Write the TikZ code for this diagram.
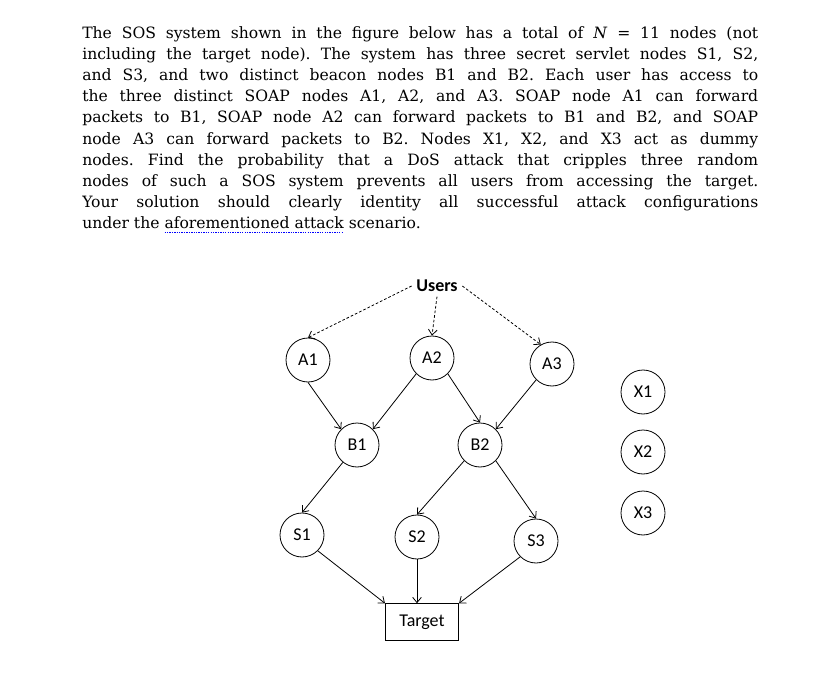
\documentclass[tikz,border=0pt]{standalone}
\usepackage{fontspec}
\usetikzlibrary{arrows.meta}
\newfontfamily\calibri{Carlito}
\newfontfamily\bodyfont{DejaVu Serif}
\newcommand\dotmark[1]{{\setbox0\hbox{#1}\rlap{\textcolor{blue}{\raisebox{-0.45ex}{\hbox to \wd0{\xleaders\hbox{\rule{1pt}{0.7pt}\kern0.8pt}\hfill}}}}\box0}}

\begin{document}
\begin{tikzpicture}[x=0.75pt, y=-0.75pt, >={Straight Barb[length=4pt, width=6.5pt]},
	every node/.style={font=\calibri\fontsize{13.5}{16}\selectfont},
	question/.style={font=\bodyfont\fontsize{11.7}{15.9}\selectfont\frenchspacing, text width=507pt, align=justify, inner sep=0pt},
	soap/.style={circle, draw, line width=0.6pt, minimum size=33pt, inner sep=0pt},
	box/.style={rectangle, draw, line width=0.6pt, minimum width=55pt, minimum height=27.5pt},
	link/.style={->, line width=0.6pt},
	userlink/.style={->, line width=0.6pt, dash pattern=on 2pt off 1.5pt}]
	\useasboundingbox (0,0) rectangle (815,692);
	% problem statement
	\node[question, anchor=north west] (question) at (82,26) {The SOS system shown in the figure below has a total of \textit{N} = 11 nodes (not\linebreak
	including the target node). The system has three secret servlet nodes S1, S2,\linebreak
	and S3, and two distinct beacon nodes B1 and B2. Each user has access to\linebreak
	the three distinct SOAP nodes A1, A2, and A3. SOAP node A1 can forward\linebreak
	packets to B1, SOAP node A2 can forward packets to B1 and B2, and SOAP\linebreak
	node A3 can forward packets to B2. Nodes X1, X2, and X3 act as dummy\linebreak
	nodes. Find the probability that a DoS attack that cripples three random\linebreak
	nodes of such a SOS system prevents all users from accessing the target.\linebreak
	Your solution should clearly identity all successful attack configurations\linebreak
	under the \dotmark{aforementioned attack} scenario.};

	% the SOS system
	\node[font=\calibri\bfseries\fontsize{13.5}{16}\selectfont] (users) at (437,286) {Users};
	\node[soap] (a1) at (308,360) {A1};
	\node[soap] (a2) at (432,358) {A2};
	\node[soap] (a3) at (552,364) {A3};
	\node[soap] (b1) at (357,445) {B1};
	\node[soap] (b2) at (480,445) {B2};
	\node[soap] (s1) at (302,535) {S1};
	\node[soap] (s2) at (417,537) {S2};
	\node[soap] (s3) at (536,541) {S3};
	\foreach \i/\y in {1/392,2/452,3/513}
		\node[soap] (x\i) at (643,\y) {X\i};
	\node[box] (target) at (422,622) {Target};

	\draw[userlink] (users.west) -- (a1.north);
	\draw[userlink] (users.south) -- (a2.north);
	\draw[userlink] (users.east) -- (a3.120);
	\draw[link] (a1.south) -- (b1.north west);
	\draw[link] (a2.south west) -- (b1.north east);
	\draw[link] (a2.south east) -- (b2.north);
	\draw[link] (a3.south west) -- (b2.north east);
	\draw[link] (b1) -- (s1.north);
	\draw[link] (b2.south west) -- (s2.north);
	\draw[link] (b2.south east) -- (s3.north);
	\draw[link] (s1.south east) -- (target.north west);
	\draw[link] (s2.south) -- (s2.south |- target.north);
	\draw[link] (s3.south west) -- (target.north east);
\end{tikzpicture}
\end{document}
